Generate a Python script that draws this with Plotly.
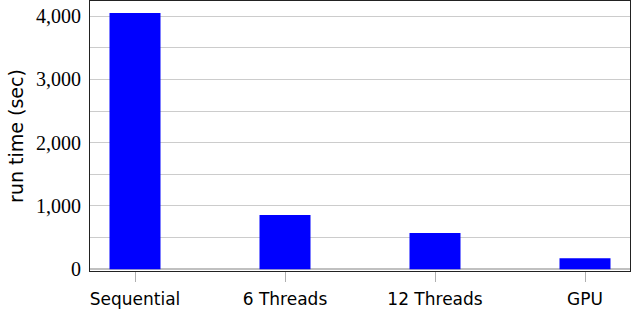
import plotly.graph_objects as go

categories = ["Sequential", "6 Threads", "12 Threads", "GPU"]
run_time = [4050, 858, 573, 174]
y_ticks = [0, 1000, 2000, 3000, 4000]

fig = go.Figure(
    go.Bar(
        x=list(range(len(categories))),
        y=run_time,
        width=0.34,
        marker=dict(color="#0000ff", line=dict(width=0)),
    )
)

fig.update_layout(
    width=632,
    height=310,
    margin=dict(l=90, r=2, t=1, b=39),
    paper_bgcolor="white",
    plot_bgcolor="white",
    showlegend=False,
)

fig.update_xaxes(
    range=[-0.3, 3.3],
    tickvals=list(range(len(categories))),
    ticktext=categories,
    tickfont=dict(family="DejaVu Sans", size=17, color="black"),
    ticks="outside",
    ticklen=10,
    tickcolor="#b0b0b0",
    tickwidth=1,
    ticklabelstandoff=3,
    showgrid=False,
    showline=True,
    mirror=True,
    linecolor="#222222",
    linewidth=1,
    zeroline=False,
)

fig.update_yaxes(
    range=[-27, 4238],
    tickvals=y_ticks,
    tickformat=",d",
    tickfont=dict(family="Liberation Serif", size=20, color="black"),
    ticks="",
    ticklabelstandoff=4,
    showgrid=True,
    gridcolor="#cccccc",
    gridwidth=1,
    minor=dict(dtick=500, tick0=0, showgrid=True, gridcolor="#cccccc", gridwidth=1),
    zeroline=True,
    zerolinecolor="#c0c0c0",
    zerolinewidth=2,
    showline=True,
    mirror=True,
    linecolor="#222222",
    linewidth=1,
    title=dict(text="run time (sec)", font=dict(family="DejaVu Sans", size=19, color="black"), standoff=7),
)

fig.write_html("out.html")
